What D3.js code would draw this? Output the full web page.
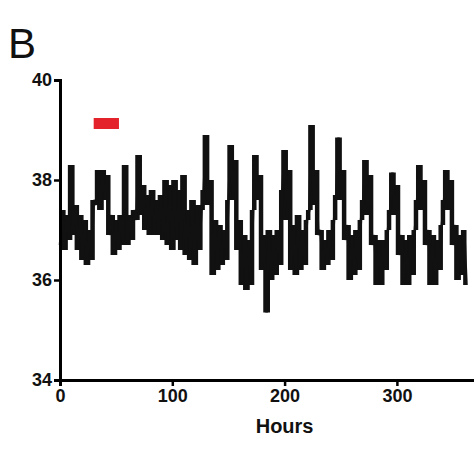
<!DOCTYPE html>
<html>
<head>
<meta charset="utf-8">
<script src="https://cdn.jsdelivr.net/npm/d3@7"></script>
<style>
  body { margin: 0; background: #fff; }
  text { font-family: "Liberation Sans", Arial, sans-serif; font-weight: bold; }
</style>
</head>
<body>
<div id="chart"></div>
<script>
// Body temperature trace, one reading every 2 hours starting at hour 0
var startHour = 0;
var stepHours = 2;
var temps = [
  36.7,37.4,36.6,37.3,36.8,38.3,36.9,37.5,36.6,37.3,36.4,37.2,36.3,37.0,36.4,37.6,37.5,38.2,37.4,38.2,
  37.6,38.1,36.9,37.3,36.5,37.2,36.6,37.3,36.7,38.3,36.7,37.3,36.8,37.4,37.2,38.5,37.3,37.9,37.0,37.7,
  36.9,37.8,36.9,37.6,36.9,37.7,36.8,38.0,36.7,37.9,36.6,38.0,36.8,37.8,36.6,38.1,36.5,37.4,36.4,37.6,
  36.3,37.5,36.6,37.4,37.8,38.9,37.5,38.0,36.1,37.2,36.2,37.1,36.3,37.0,36.4,37.6,38.7,37.6,38.4,36.6,
  37.2,35.9,36.9,35.8,36.8,35.9,37.4,38.5,37.6,38.1,36.2,36.9,35.35,37.0,36.0,36.9,36.1,37.0,36.3,37.8,
  38.6,37.2,38.2,36.2,37.1,36.1,37.3,36.2,37.0,36.3,37.2,37.4,39.1,37.5,38.2,36.9,37.0,36.2,36.8,36.3,
  37.0,36.4,37.2,37.7,38.85,37.6,38.2,36.8,37.1,36.0,36.9,36.1,37.0,36.2,37.2,37.6,38.4,37.3,38.1,36.7,
  36.9,35.9,36.8,35.9,36.8,36.2,37.0,37.4,38.15,37.3,37.9,36.5,36.9,35.9,36.8,35.9,36.9,36.1,37.0,37.6,
  38.3,37.4,38.0,36.7,37.0,35.9,36.9,35.9,36.8,36.2,37.1,37.6,38.2,37.4,38.0,36.7,37.1,36.0,36.9,36.1,
  37.0,35.9
];
var xTicks = [0, 100, 200, 300];
var yTicks = [34, 36, 38, 40];
// treatment bar (hours, degrees)
var barHours = [30, 52.5];
var barTemps = [39.02, 39.24];

var svgWidth = 474, svgHeight = 474;
var svg = d3.select("#chart").append("svg")
  .attr("width", svgWidth).attr("height", svgHeight);

var x = d3.scaleLinear().domain([0, 370]).range([60, 475.5]);
var y = d3.scaleLinear().domain([34, 40]).range([380, 80]);

var data = temps.map(function(t, i) {
  var nb = temps.slice(Math.max(0, i - 1), i + 2);
  return { h: startHour + i * stepHours, t: t, lo: d3.min(nb), hi: d3.max(nb) };
});

// filled band of the dense recording (range of neighbouring readings)
svg.append("path")
  .datum(data)
  .attr("fill", "#111")
  .attr("d", d3.area().x(d => x(d.h)).y0(d => y(d.lo)).y1(d => y(d.hi)).curve(d3.curveStep));

// trace
svg.append("path")
  .datum(data)
  .attr("fill", "none")
  .attr("stroke", "#111")
  .attr("stroke-width", 2.5)
  .attr("d", d3.line().x(d => x(d.h)).y(d => y(d.t)));

// red bar
svg.append("rect")
  .attr("x", x(barHours[0])).attr("width", x(barHours[1]) - x(barHours[0]))
  .attr("y", y(barTemps[1])).attr("height", y(barTemps[0]) - y(barTemps[1]))
  .attr("fill", "#e3222b");

// axes
var xAxis = svg.append("g").attr("transform", "translate(0,380)")
  .call(d3.axisBottom(x).tickValues(xTicks).tickFormat(d3.format("d")).tickSize(6).tickPadding(3));
var yAxis = svg.append("g").attr("transform", "translate(60,0)")
  .call(d3.axisLeft(y).tickValues(yTicks).tickFormat(d3.format("d")).tickSize(6).tickPadding(2));

[xAxis, yAxis].forEach(function(a) {
  a.select(".domain").attr("stroke", "#000").attr("stroke-width", 3);
  a.selectAll(".tick line").attr("stroke", "#000").attr("stroke-width", 2.5);
  a.selectAll(".tick text").attr("fill", "#111")
    .style("font-size", "18px").style("font-weight", "bold")
    .style("font-family", "'Liberation Sans', Arial, sans-serif");
});

svg.append("text")
  .attr("x", x(200)).attr("y", 433)
  .attr("text-anchor", "middle")
  .style("font-size", "20px")
  .attr("fill", "#111")
  .text("Hours");

svg.append("text")
  .attr("x", 8).attr("y", 58)
  .style("font-size", "42px")
  .style("font-weight", "normal")
  .attr("fill", "#111")
  .text("B");
</script>
</body>
</html>
